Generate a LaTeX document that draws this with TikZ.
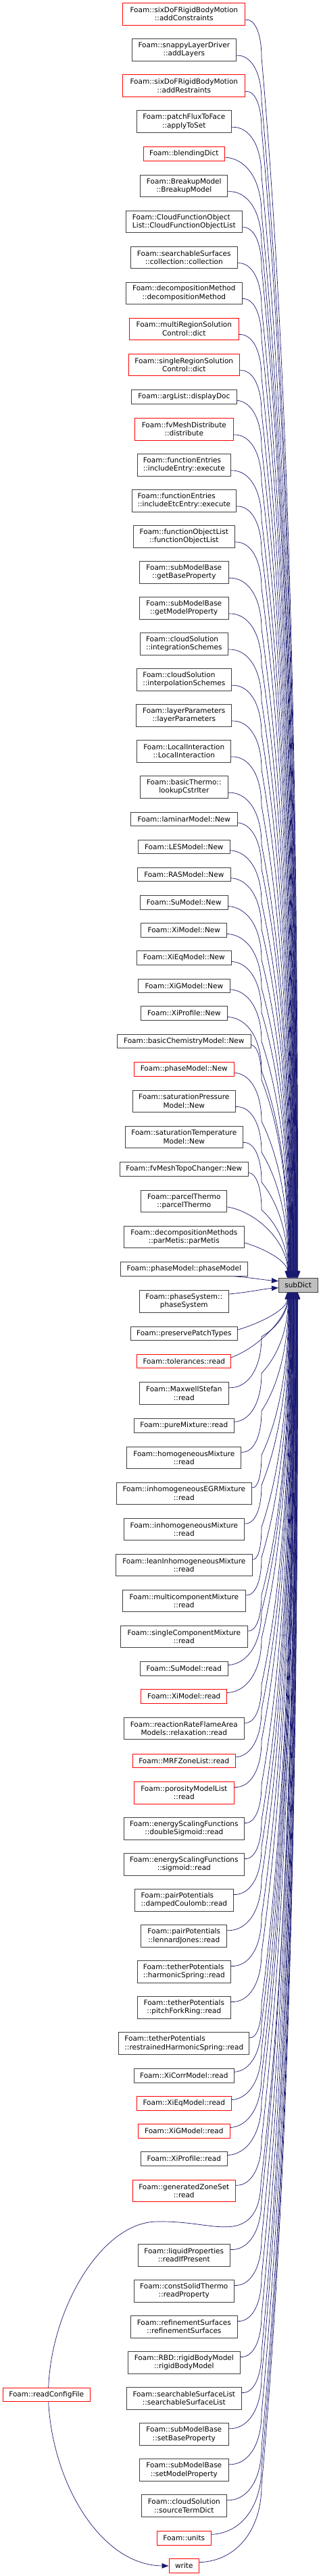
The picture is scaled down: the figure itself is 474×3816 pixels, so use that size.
\documentclass[tikz,border=0pt]{standalone}
\usepackage{fontspec}
\newfontfamily\dvs{DejaVu Sans}
\usetikzlibrary{arrows.meta,calc}
\definecolor{edgeblue}{HTML}{191970}
\definecolor{bordergray}{HTML}{404040}
\definecolor{truncred}{HTML}{FF0000}
\definecolor{sdfill}{HTML}{BFBFBF}
\tikzset{
 nbox/.style={draw=bordergray, fill=white, line width=0.8pt, inner xsep=0pt, inner ysep=1pt,
   font={\dvs\fontsize{10.5pt}{12.3pt}\selectfont}, align=center, minimum height=20.7pt},
 twoline/.style={minimum height=32.5pt},
 redb/.style={draw=truncred},
 leftal/.style={align=left},
 conn/.style={draw=edgeblue, line width=0.7pt, -{Triangle[length=10pt,width=7.5pt]}},
}
\newcommand\fnode[5]{\node[nbox,#1,minimum width=#2pt] (n#3) at (272.3,#4) {#5};}
\begin{document}
\begin{tikzpicture}[x=1pt,y=-1pt]
\useasboundingbox (0,0) rectangle (474,3816);
\fnode{twoline,redb}{181}{1}{20.8}{Foam::sixDoFRigidBodyMotion\\::addConstraints}
\fnode{twoline}{154}{2}{73.8}{Foam::snappyLayerDriver\\::addLayers}
\fnode{twoline,redb}{181}{3}{127}{Foam::sixDoFRigidBodyMotion\\::addRestraints}
\fnode{twoline}{140.7}{4}{180}{Foam::patchFluxToFace\\::applyToSet}
\fnode{redb}{120.3}{5}{227.7}{Foam::blendingDict}
\fnode{twoline}{129}{6}{275.3}{Foam::BreakupModel\\::BreakupModel}
\fnode{twoline,leftal}{171.3}{7}{328.3}{Foam::CloudFunctionObject\\List::CloudFunctionObjectList}
\fnode{twoline}{157.3}{8}{381.3}{Foam::searchableSurfaces\\::collection::collection}
\fnode{twoline}{171.3}{9}{434.2}{Foam::decompositionMethod\\::decompositionMethod}
\fnode{twoline,redb}{161.7}{10}{487.2}{Foam::multiRegionSolution\\Control::dict}
\fnode{twoline,redb}{164.7}{11}{540.3}{Foam::singleRegionSolution\\Control::dict}
\fnode{}{155.3}{12}{587.8}{Foam::argList::displayDoc}
\fnode{twoline,redb}{145.7}{13}{635.7}{Foam::fvMeshDistribute\\::distribute}
\fnode{twoline,leftal}{138}{14}{688.7}{Foam::functionEntries\\::includeEntry::execute}
\fnode{twoline,leftal}{154}{15}{741.7}{Foam::functionEntries\\::includeEtcEntry::execute}
\fnode{twoline}{150}{16}{794.7}{Foam::functionObjectList\\::functionObjectList}
\fnode{twoline}{131.3}{17}{847.8}{Foam::subModelBase\\::getBaseProperty}
\fnode{twoline}{131.3}{18}{900.7}{Foam::subModelBase\\::getModelProperty}
\fnode{twoline,leftal}{130.3}{19}{953.7}{Foam::cloudSolution\\::integrationSchemes}
\fnode{twoline,leftal}{140}{20}{1006.8}{Foam::cloudSolution\\::interpolationSchemes}
\fnode{twoline}{141}{21}{1059.7}{Foam::layerParameters\\::layerParameters}
\fnode{twoline}{139}{22}{1112.7}{Foam::LocalInteraction\\::LocalInteraction}
\fnode{twoline}{129.3}{23}{1165.8}{Foam::basicThermo::\\lookupCstrIter}
\fnode{}{157.3}{24}{1213.3}{Foam::laminarModel::New}
\fnode{}{135.7}{25}{1254.3}{Foam::LESModel::New}
\fnode{}{138}{26}{1295.3}{Foam::RASModel::New}
\fnode{}{129.3}{27}{1337}{Foam::SuModel::New}
\fnode{}{127}{28}{1378}{Foam::XiModel::New}
\fnode{}{140}{29}{1419}{Foam::XiEqModel::New}
\fnode{}{135.7}{30}{1460.3}{Foam::XiGModel::New}
\fnode{}{128.3}{31}{1501}{Foam::XiProfile::New}
\fnode{}{198.3}{32}{1542.3}{Foam::basicChemistryModel::New}
\fnode{redb}{148.3}{33}{1583.7}{Foam::phaseModel::New}
\fnode{twoline}{152.7}{34}{1631.2}{Foam::saturationPressure\\Model::New}
\fnode{twoline}{174.7}{35}{1684.2}{Foam::saturationTemperature\\Model::New}
\fnode{}{190.7}{36}{1731.7}{Foam::fvMeshTopoChanger::New}
\fnode{twoline}{127}{37}{1779.5}{Foam::parcelThermo\\::parcelThermo}
\fnode{twoline}{177.7}{38}{1832.5}{Foam::decompositionMethods\\::parMetis::parMetis}
\fnode{}{188.3}{39}{1880}{Foam::phaseModel::phaseModel}
\fnode{twoline}{132}{40}{1927.7}{Foam::phaseSystem::\\phaseSystem}
\fnode{}{158.3}{41}{1975.3}{Foam::preservePatchTypes}
\fnode{redb}{139}{42}{2016.3}{Foam::tolerances::read}
\fnode{twoline}{132}{43}{2064}{Foam::MaxwellStefan\\::read}
\fnode{}{148.3}{44}{2111.7}{Foam::pureMixture::read}
\fnode{twoline}{169}{45}{2159.5}{Foam::homogeneousMixture\\::read}
\fnode{twoline}{200.3}{46}{2212.2}{Foam::inhomogeneousEGRMixture\\::read}
\fnode{twoline}{178.7}{47}{2265.3}{Foam::inhomogeneousMixture\\::read}
\fnode{twoline}{201.7}{48}{2318.5}{Foam::leanInhomogeneousMixture\\::read}
\fnode{twoline}{181.3}{49}{2371.5}{Foam::multicomponentMixture\\::read}
\fnode{twoline}{187.3}{50}{2424.5}{Foam::singleComponentMixture\\::read}
\fnode{}{129.3}{51}{2472}{Foam::SuModel::read}
\fnode{redb}{127}{52}{2513}{Foam::XiModel::read}
\fnode{twoline}{178.7}{53}{2560.5}{Foam::reactionRateFlameArea\\Models::relaxation::read}
\fnode{redb}{152.7}{54}{2608.3}{Foam::MRFZoneList::read}
\fnode{twoline,redb}{148.3}{55}{2655.8}{Foam::porosityModelList\\::read}
\fnode{twoline}{178.7}{56}{2708.8}{Foam::energyScalingFunctions\\::doubleSigmoid::read}
\fnode{twoline}{178.7}{57}{2761.8}{Foam::energyScalingFunctions\\::sigmoid::read}
\fnode{twoline,leftal}{145.3}{58}{2814.8}{Foam::pairPotentials\\::dampedCoulomb::read}
\fnode{twoline}{127}{59}{2868}{Foam::pairPotentials\\::lennardJones::read}
\fnode{twoline,leftal}{138.7}{60}{2920.8}{Foam::tetherPotentials\\::harmonicSpring::read}
\fnode{twoline}{138.7}{61}{2973.8}{Foam::tetherPotentials\\::pitchForkRing::read}
\fnode{twoline,leftal}{193}{62}{3027}{Foam::tetherPotentials\\::restrainedHarmonicSpring::read}
\fnode{}{148.3}{63}{3074.7}{Foam::XiCorrModel::read}
\fnode{redb}{140}{64}{3116}{Foam::XiEqModel::read}
\fnode{redb}{135.7}{65}{3157}{Foam::XiGModel::read}
\fnode{}{128.3}{66}{3198}{Foam::XiProfile::read}
\fnode{twoline,redb}{151.7}{67}{3245.5}{Foam::generatedZoneSet\\::read}
\fnode{twoline}{136.7}{68}{3340.8}{Foam::liquidProperties\\::readIfPresent}
\fnode{twoline}{148.3}{69}{3393.8}{Foam::constSolidThermo\\::readProperty}
\fnode{twoline}{157.3}{70}{3446.8}{Foam::refinementSurfaces\\::refinementSurfaces}
\fnode{twoline}{166}{71}{3499.8}{Foam::RBD::rigidBodyModel\\::rigidBodyModel}
\fnode{twoline}{170}{72}{3552.8}{Foam::searchableSurfaceList\\::searchableSurfaceList}
\fnode{twoline}{131.3}{73}{3606}{Foam::subModelBase\\::setBaseProperty}
\fnode{twoline}{131.3}{74}{3659}{Foam::subModelBase\\::setModelProperty}
\fnode{twoline}{125.7}{75}{3712}{Foam::cloudSolution\\::sourceTermDict}
\fnode{redb}{80.3}{76}{3759.7}{Foam::units}
\fnode{redb}{44.7}{77}{3801}{write}
\node[nbox,redb,minimum width=129.3pt] (rc) at (68.7,3547.5) {Foam::readConfigFile};
\node[nbox,fill=sdfill,minimum width=57.7pt] (sd) at (441.2,1903.7) {subDict};

% edges from the nodes above subDict
\foreach \i/\yc/\w in {1/20.8/181, 2/73.8/154, 3/127/181, 4/180/140.7, 5/227.7/120.3,
  6/275.3/129, 7/328.3/171.3, 8/381.3/157.3, 9/434.2/171.3, 10/487.2/161.7, 11/540.3/164.7,
  12/587.8/155.3, 13/635.7/145.7, 14/688.7/138, 15/741.7/154, 16/794.7/150, 17/847.8/131.3,
  18/900.7/131.3, 19/953.7/130.3, 20/1006.8/140, 21/1059.7/141, 22/1112.7/139, 23/1165.8/129.3,
  24/1213.3/157.3, 25/1254.3/135.7, 26/1295.3/138, 27/1337/129.3, 28/1378/127, 29/1419/140,
  30/1460.3/135.7, 31/1501/128.3, 32/1542.3/198.3, 33/1583.7/148.3, 34/1631.2/152.7,
  35/1684.2/174.7, 36/1731.7/190.7}{
  \pgfmathsetmacro\xR{272.3+\w/2}
  \pgfmathsetmacro\gapp{45+0.8*(387-\xR)}
  \pgfmathsetmacro\cxa{\xR+0.6*(387-\xR)}
  \pgfmathsetmacro\cya{\yc+7}
  \pgfmathsetmacro\cyb{\yc+0.45*\gapp}
  \pgfmathsetmacro\pyy{\yc+\gapp}
  \pgfmathsetmacro\xee{425+(1893-\yc)/1870*16}
  \pgfmathsetmacro\lenL{1893.35-\pyy}
  \pgfmathsetmacro\qya{\pyy+0.3*\lenL}
  \pgfmathsetmacro\qyb{1893.35-0.3*\lenL}
  \pgfmathsetmacro\xoff{\xee-412.35}
  \pgfmathsetmacro\xff{\xee-6}
  \draw[conn] ($(n\i.north east)!0.75!(n\i.south east)$) .. controls (\cxa,\cya) and (387,\cyb) .. (387,\pyy)
     .. controls (\xff,\qya) and (\xee,\qyb) .. ($(sd.north west)+(\xoff,0)$);
}
\draw[conn] ($(n37.north east)!0.75!(n37.south east)$) .. controls (380,1795) and (426,1840) .. ($(sd.north west)+(13.6,0)$);
\draw[conn] ($(n38.north east)!0.75!(n38.south east)$) .. controls (392,1850) and (425.5,1868) .. ($(sd.north west)+(13.15,0)$);
\draw[conn] ($(n39.south east)+(-20,0)$) .. controls (375,1893) and (390,1896) .. ($(sd.west)+(0,-6)$);
\draw[conn] ($(n40.north east)+(0,6)$) .. controls (370,1914) and (392,1909) .. ($(sd.west)+(0,4)$);
\draw[conn] ($(n41.north east)!0.25!(n41.south east)$) .. controls (385,1960) and (425.5,1940) .. ($(sd.south west)+(13.15,0)$);
\draw[conn] ($(n42.north east)!0.25!(n42.south east)$) .. controls (385,1995) and (425.9,1950) .. ($(sd.south west)+(13.55,0)$);

% edges from the nodes below subDict
\foreach \i/\yc/\w in {43/2064/132, 44/2111.7/148.3, 45/2159.5/169,
  46/2212.2/200.3, 47/2265.3/178.7, 48/2318.5/201.7, 49/2371.5/181.3, 50/2424.5/187.3,
  51/2472/129.3, 52/2513/127, 53/2560.5/178.7, 54/2608.3/152.7, 55/2655.8/148.3,
  56/2708.8/178.7, 57/2761.8/178.7, 58/2814.8/145.3, 59/2868/127, 60/2920.8/138.7,
  61/2973.8/138.7, 62/3027/193, 63/3074.7/148.3, 64/3116/140, 65/3157/135.7, 66/3198/128.3,
  67/3245.5/151.7, 68/3340.8/136.7, 69/3393.8/148.3, 70/3446.8/157.3, 71/3499.8/166,
  72/3552.8/170, 73/3606/131.3, 74/3659/131.3, 75/3712/125.7, 76/3759.7/80.3, 77/3801/44.7}{
  \pgfmathsetmacro\xR{272.3+\w/2}
  \pgfmathsetmacro\gapp{45+0.8*(387-\xR)}
  \pgfmathsetmacro\cxa{\xR+0.6*(387-\xR)}
  \pgfmathsetmacro\cya{\yc-7}
  \pgfmathsetmacro\cyb{\yc-0.45*\gapp}
  \pgfmathsetmacro\pyy{\yc-\gapp}
  \pgfmathsetmacro\xee{425+(\yc-1914)/1890*16}
  \pgfmathsetmacro\lenL{\pyy-1914.05}
  \pgfmathsetmacro\qya{\pyy-0.3*\lenL}
  \pgfmathsetmacro\qyb{1914.05+0.3*\lenL}
  \pgfmathsetmacro\xoff{\xee-412.35}
  \pgfmathsetmacro\xff{\xee-6}
  \draw[conn] ($(n\i.north east)!0.25!(n\i.south east)$) .. controls (\cxa,\cya) and (387,\cyb) .. (387,\pyy)
     .. controls (\xff,\qya) and (\xee,\qyb) .. ($(sd.south west)+(\xoff,0)$);
}

% readConfigFile
\draw[conn] ($(rc.north)+(3,0)$) .. controls (76,3420) and (150,3292) .. (232,3291)
   .. controls (285,3290) and (315,3302) .. (345,3298)
   .. controls (370,3294) and (385,3275) .. (386,3235)
   .. controls (432.8,2839) and (438.8,2310) .. ($(sd.south west)+(26.45,0)$);
\draw[conn] ($(rc.south)+(3,0)$) .. controls (78,3680) and (150,3800) .. (n77.west);
\end{tikzpicture}
\end{document}
